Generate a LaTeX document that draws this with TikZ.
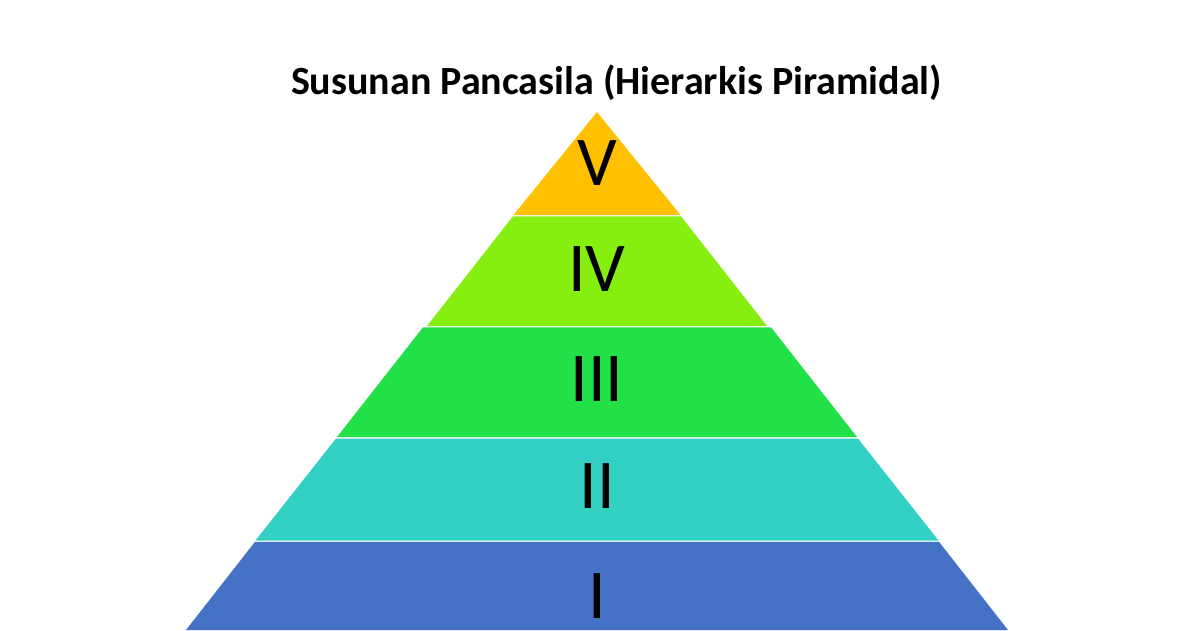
\documentclass[tikz,border=0pt]{standalone}
\usepackage{fontspec}
\setmainfont{Carlito}
\definecolor{cV}{HTML}{FFC000}
\definecolor{cIV}{HTML}{86EF10}
\definecolor{cIII}{HTML}{22E048}
\definecolor{cII}{HTML}{33D1C4}
\definecolor{cI}{HTML}{4472C4}
\tikzset{
  band/.style={draw=none},
  numeral/.style={anchor=base, inner sep=0pt, font=\fontsize{70}{70}\selectfont, text=black},
  titlestyle/.style={anchor=base, inner sep=0pt, font=\fontsize{40}{40}\selectfont\bfseries, text=black}
}
\begin{document}
\begin{tikzpicture}[x=1pt,y=-1pt]
\useasboundingbox (0,0) rectangle (1200,630);
\fill[white] (0,0) rectangle (1200,630);
\begin{scope}
\clip (0,0) rectangle (1200,630);
% bands
\fill[band, cV]   (597,112) -- (680.5,215) -- (513.5,215) -- cycle;
\fill[band, cIV]  (513,216.3) -- (681,216.3) -- (767,326) -- (427,326) -- cycle;
\fill[band, cIII] (423,327.3) -- (771,327.3) -- (857,437) -- (337,437) -- cycle;
\fill[band, cII]  (336,438.5) -- (858,438.5) -- (938.5,540.5) -- (255.5,540.5) -- cycle;
\fill[band, cI]   (255,541.8) -- (939,541.8) -- (1008,630) -- (186,630) -- cycle;
\end{scope}
\node[titlestyle] (title) at (616.5,94) {Susunan Pancasila (Hierarkis Piramidal)};
\node[numeral] (n5) at (597,185) {V};
\node[numeral] (n4) at (597,291) {IV};
\node[numeral] (n3) at (597,401) {III};
\node[numeral] (n2) at (597,508) {II};
\node[numeral] (n1) at (597,618) {I};
\end{tikzpicture}
\end{document}
